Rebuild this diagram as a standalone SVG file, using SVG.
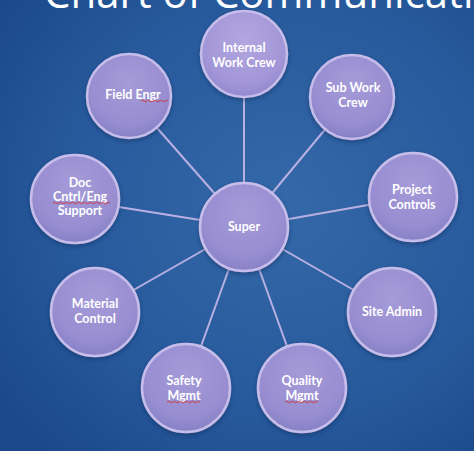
<svg xmlns="http://www.w3.org/2000/svg" width="474" height="451" viewBox="0 0 474 451">
<defs>
<radialGradient id="bg" cx="60%" cy="45%" r="75%">
<stop offset="0" stop-color="#3468a8"/>
<stop offset="0.6" stop-color="#275a9c"/>
<stop offset="1" stop-color="#1b4889"/>
</radialGradient>
<radialGradient id="ball" cx="50%" cy="35%" r="65%">
<stop offset="0" stop-color="#a69bd9"/>
<stop offset="0.75" stop-color="#978dd0"/>
<stop offset="1" stop-color="#8880c6"/>
</radialGradient>
<radialGradient id="ballLight" cx="50%" cy="35%" r="65%">
<stop offset="0" stop-color="#b2a6e0"/>
<stop offset="0.75" stop-color="#a296d8"/>
<stop offset="1" stop-color="#9489cf"/>
</radialGradient>
<filter id="sh" x="-20%" y="-20%" width="140%" height="140%">
<feDropShadow dx="0" dy="2" stdDeviation="2" flood-color="#0e2a5a" flood-opacity="0.5"/>
</filter>
</defs>
<style>
.node circle{fill:url(#ball);stroke:#c7bdea;stroke-width:2.5;filter:url(#sh)}
.node circle.light{fill:url(#ballLight)}
.node text{font-family:Lato,"Open Sans",sans-serif;font-weight:bold;font-size:12.5px;fill:#ffffff;text-anchor:middle}
.conn line{stroke:#b9b0e2;stroke-width:2}
.sq{fill:none;stroke:#d03030;stroke-width:0.9}
.title{font-family:"Open Sans","Liberation Sans",sans-serif;font-size:42px;fill:#ffffff}
</style>
<rect x="0" y="0" width="474" height="451" fill="url(#bg)"/>
<text class="title" x="44" y="8">Chart of Communication</text>
<g id="connectors" class="conn">
<line x1="244" y1="227" x2="244" y2="54"/>
<line x1="244" y1="227" x2="352" y2="97"/>
<line x1="244" y1="227" x2="413" y2="197"/>
<line x1="244" y1="227" x2="392" y2="312"/>
<line x1="244" y1="227" x2="302" y2="388"/>
<line x1="244" y1="227" x2="186" y2="388"/>
<line x1="244" y1="227" x2="95" y2="312"/>
<line x1="244" y1="227" x2="75" y2="200"/>
<line x1="244" y1="227" x2="129" y2="96"/>
</g>
<g id="internal-work-crew" class="node"><circle class="light" cx="244" cy="54" r="43"/><text x="244" y="52">Internal</text><text x="244" y="67">Work Crew</text></g>
<g id="sub-work-crew" class="node"><circle cx="352" cy="97" r="42"/><text x="353" y="92">Sub Work</text><text x="353" y="107">Crew</text></g>
<g id="project-controls" class="node"><circle cx="413" cy="197" r="44"/><text x="412" y="194">Project</text><text x="412" y="209">Controls</text></g>
<g id="site-admin" class="node"><circle cx="392" cy="312" r="44"/><text x="392" y="316">Site Admin</text></g>
<g id="quality-mgmt" class="node"><circle cx="302" cy="388" r="44"/><text x="302" y="385">Quality</text><text x="302" y="400">Mgmt</text><path class="sq" d="M285,402 q1.5,-1.5 3,0 t3,0 t3,0 t3,0 t3,0 t3,0 t3,0 t3,0 t3,0 t3,0 t3,0"/></g>
<g id="safety-mgmt" class="node"><circle cx="186" cy="388" r="44"/><text x="184" y="385">Safety</text><text x="184" y="400">Mgmt</text><path class="sq" d="M167,402 q1.5,-1.5 3,0 t3,0 t3,0 t3,0 t3,0 t3,0 t3,0 t3,0 t3,0 t3,0 t3,0"/></g>
<g id="material-control" class="node"><circle cx="95" cy="312" r="44"/><text x="95" y="308">Material</text><text x="95" y="323">Control</text></g>
<g id="doc-cntrl-eng-support" class="node"><circle cx="75" cy="199" r="44"/><text x="80" y="187">Doc</text><text x="80" y="201">Cntrl/Eng</text><text x="80" y="215">Support</text><path class="sq" d="M53,203 q1.5,-1.5 3,0 t3,0 t3,0 t3,0 t3,0 t3,0 t3,0 t3,0 t3,0 t3,0 t3,0 t3,0 t3,0 t3,0 t3,0 t3,0 t3,0 t3,0 t3,0"/></g>
<g id="field-engr" class="node"><circle cx="129" cy="96" r="42"/><text x="133" y="99">Field Engr</text><path class="sq" d="M141,101 q1.5,-1.5 3,0 t3,0 t3,0 t3,0 t3,0 t3,0 t3,0 t3,0 t3,0"/></g>
<g id="super" class="node"><circle cx="244" cy="227" r="44"/><text x="244" y="231">Super</text></g>
</svg>
